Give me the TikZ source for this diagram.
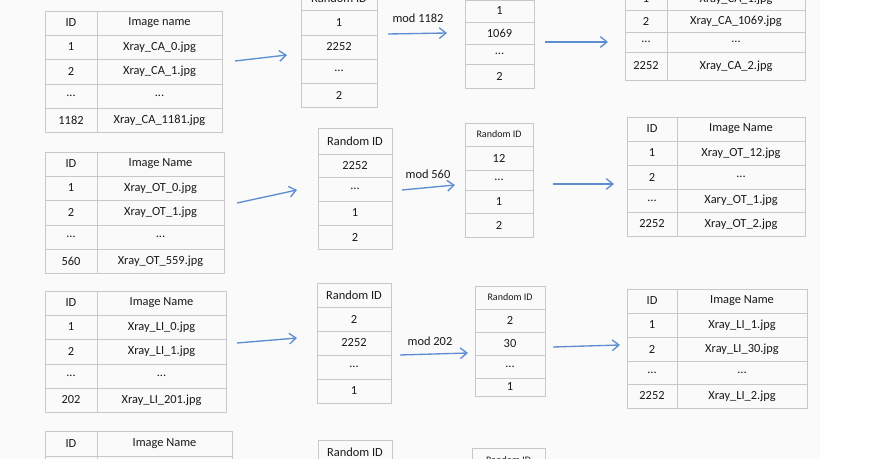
\documentclass[tikz,border=0pt]{standalone}
\usepackage{fontspec}
\setmainfont{Carlito}
\usetikzlibrary{arrows.meta}
\definecolor{arr}{RGB}{92,142,208}
\definecolor{grid}{RGB}{200,200,200}
\newcounter{cellno}
\newcommand\dd{...}
\newcommand\cell[5]{\stepcounter{cellno}\node[cellbox,minimum width={0.75pt*(#3-#1)},minimum height={0.75pt*(#4-#2)}] (cell\thecellno) at ({(#1+#3)/2},{(#2+#4)/2}) {#5};}
\begin{document}
\begin{tikzpicture}[x=0.75pt,y=-0.75pt,
  cellbox/.style={draw=grid,line width=0.6pt,inner sep=0pt,font=\fontsize{9.3}{10}\selectfont,text=black!90},
  flow/.style={draw=arr,line width=1pt,-{Straight Barb[length=5pt,width=8pt]}},
  lbl/.style={font=\fontsize{9.3}{10}\selectfont,text=black!90}]
\useasboundingbox (0,0) rectangle (875,459);
\clip (0,0) rectangle (875,459);
\fill[black!2] (0,0) rectangle (820,459);
% ---------- Row 1 ----------
\foreach \a/\b/\p/\q in {11/35/ID/Image name,35/59/1/Xray\_CA\_0.jpg,59/84/2/Xray\_CA\_1.jpg,84/108/\dd/\dd,108/132/1182/Xray\_CA\_1181.jpg}
  {\cell{45}{\a}{97}{\b}{\p}\cell{97}{\a}{222}{\b}{\q}}
\foreach \a/\b/\p in {-14/10/Random ID,10/35/1,35/59/2252,59/83/\dd,83/107/2}
  {\cell{301}{\a}{377}{\b}{\p}}
\foreach \a/\b/\p in {-22/0/Random ID,0/22/1,22/44/1069,44/64/\dd,64/88/2}
  {\cell{465}{\a}{534}{\b}{\p}}
\foreach \a/\b/\p/\q in {-34/-12/ID/Image Name,-12/10/1/Xray\_CA\_1.jpg,10/32/2/Xray\_CA\_1069.jpg,32/52/\dd/\dd,52/80/2252/Xray\_CA\_2.jpg}
  {\cell{625}{\a}{667}{\b}{\p}\cell{667}{\a}{805}{\b}{\q}}
\node[lbl] (m1) at (418,18) {mod 1182};
\coordinate (a1s) at (235,61); \coordinate (a1e) at (287,55);
\draw[flow] (a1s) -- (a1e);
\coordinate (b1s) at (388,34); \coordinate (b1e) at (447,33);
\draw[flow] (b1s) -- (b1e);
\coordinate (c1s) at (545,42); \coordinate (c1e) at (608,42);
\draw[flow] (c1s) -- (c1e);
% ---------- Row 2 ----------
\foreach \a/\b/\p/\q in {152/176/ID/Image Name,176/200/1/Xray\_OT\_0.jpg,200/225/2/Xray\_OT\_1.jpg,225/249/\dd/\dd,249/273/560/Xray\_OT\_559.jpg}
  {\cell{45}{\a}{97}{\b}{\p}\cell{97}{\a}{224}{\b}{\q}}
\foreach \a/\b/\p in {128/154/Random ID,154/177/2252,177/201/\dd,201/225/1,225/249/2}
  {\cell{318}{\a}{392}{\b}{\p}}
\cell{465}{123}{533}{146}{\fontsize{7.5}{8}\selectfont Random ID}
\foreach \a/\b/\p in {146/170/12,170/190/\dd,190/213/1,213/237/2}
  {\cell{465}{\a}{533}{\b}{\p}}
\foreach \a/\b/\p/\q in {117/141/ID/Image Name,141/165/1/Xray\_OT\_12.jpg,165/189/2/\dd,189/212/\dd/Xary\_OT\_1.jpg,212/236/2252/Xray\_OT\_2.jpg}
  {\cell{627}{\a}{677}{\b}{\p}\cell{677}{\a}{805}{\b}{\q}}
\node[lbl] (m2) at (428,174) {mod 560};
\coordinate (a2s) at (237,203); \coordinate (a2e) at (297,190);
\draw[flow] (a2s) -- (a2e);
\coordinate (b2s) at (402,190); \coordinate (b2e) at (455,185);
\draw[flow] (b2s) -- (b2e);
\coordinate (c2s) at (553,184); \coordinate (c2e) at (614,184);
\draw[flow] (c2s) -- (c2e);
% ---------- Row 3 ----------
\foreach \a/\b/\p/\q in {291/315/ID/Image Name,315/339/1/Xray\_LI\_0.jpg,339/364/2/Xray\_LI\_1.jpg,364/388/\dd/\dd,388/412/202/Xray\_LI\_201.jpg}
  {\cell{45}{\a}{97}{\b}{\p}\cell{97}{\a}{226}{\b}{\q}}
\foreach \a/\b/\p in {283/307/Random ID,307/331/2,331/355/2252,355/379/\dd,379/403/1}
  {\cell{317}{\a}{391}{\b}{\p}}
\cell{475}{286}{545}{309}{\fontsize{7.5}{8}\selectfont Random ID}
\foreach \a/\b/\p in {309/332/2,332/355/30,355/378/\dd,378/396/1}
  {\cell{475}{\a}{545}{\b}{\p}}
\foreach \a/\b/\p/\q in {289/313/ID/Image Name,313/337/1/Xray\_LI\_1.jpg,337/361/2/Xray\_LI\_30.jpg,361/384/\dd/\dd,384/408/2252/Xray\_LI\_2.jpg}
  {\cell{627}{\a}{677}{\b}{\p}\cell{677}{\a}{807}{\b}{\q}}
\node[lbl] (m3) at (430,341) {mod 202};
\coordinate (a3s) at (237,343); \coordinate (a3e) at (297,338);
\draw[flow] (a3s) -- (a3e);
\coordinate (b3s) at (400,355); \coordinate (b3e) at (468,353);
\draw[flow] (b3s) -- (b3e);
\coordinate (c3s) at (553,347); \coordinate (c3e) at (620,345);
\draw[flow] (c3s) -- (c3e);
% ---------- Row 4 ----------
\cell{45}{431}{97}{456}{ID}\cell{97}{431}{232}{456}{Image Name}
\cell{45}{456}{97}{480}{}\cell{97}{456}{232}{480}{}
\cell{318}{440}{392}{464}{Random ID}
\cell{472}{448}{545}{472}{\fontsize{7.5}{8}\selectfont Random ID}
\end{tikzpicture}
\end{document}
